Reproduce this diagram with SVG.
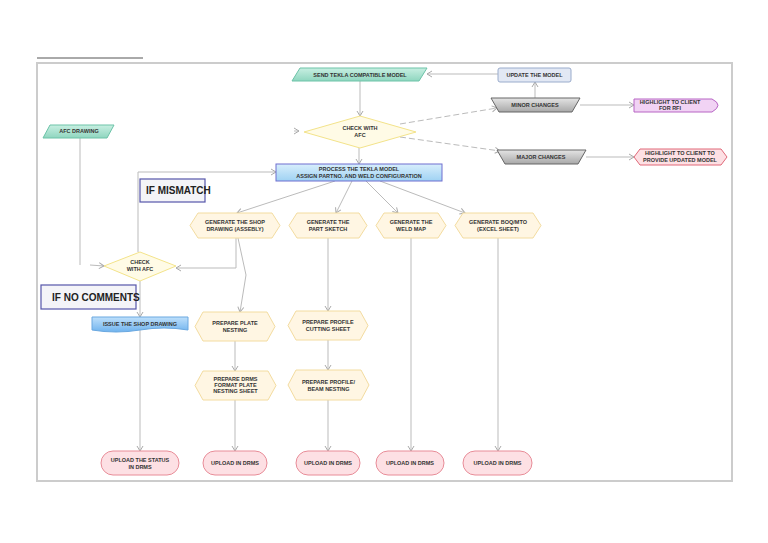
<svg xmlns="http://www.w3.org/2000/svg" width="768" height="543" viewBox="0 0 768 543">
<defs>
<marker id="a" markerWidth="8" markerHeight="8" refX="6" refY="4" orient="auto" markerUnits="userSpaceOnUse"><path d="M1,1 L6,4 L1,7" fill="none" stroke="#aaa" stroke-width="1"/></marker>
<linearGradient id="gs" x1="0" y1="0" x2="0" y2="1"><stop offset="0" stop-color="#c8efe2"/><stop offset="1" stop-color="#8fd6bf"/></linearGradient>
<linearGradient id="gb" x1="0" y1="0" x2="0" y2="1"><stop offset="0" stop-color="#d8eefc"/><stop offset="1" stop-color="#9fd2f3"/></linearGradient>
<linearGradient id="gi" x1="0" y1="0" x2="0" y2="1"><stop offset="0" stop-color="#bfe0fb"/><stop offset="1" stop-color="#6fb3ee"/></linearGradient>
<linearGradient id="gg" x1="0" y1="0" x2="0" y2="1"><stop offset="0" stop-color="#e4e4e4"/><stop offset="1" stop-color="#a8a8a8"/></linearGradient>
</defs>
<style>
text{font-family:"Liberation Sans",Arial,sans-serif;font-size:5.5px;font-weight:bold;fill:#333;text-anchor:middle}
.big{font-size:10px;fill:#222;text-anchor:start}
.c line,.c polyline{stroke:#bbb;stroke-width:1;fill:none;marker-end:url(#a)}
.d{stroke-dasharray:6,3}
.hex{fill:#fff6e3;stroke:#f3dca0;stroke-width:1}
.up{fill:#fde0e4;stroke:#e88c98;stroke-width:1}
.dia{fill:#fffbe6;stroke:#f3e38a;stroke-width:1}
.lab{fill:#f4f4f8;stroke:#5555aa;stroke-width:1.2}
</style>
<rect width="768" height="543" fill="#fff"/>
<line x1="37" y1="58" x2="143" y2="58" stroke="#555" stroke-width="1"/>
<rect x="37" y="63" width="695" height="418" fill="none" stroke="#ccc" stroke-width="2"/>
<g class="c">
<line x1="360" y1="81" x2="360" y2="116"/>
<line x1="359" y1="148" x2="359" y2="164"/>
<line class="d" x1="400" y1="124" x2="497" y2="108"/>
<line class="d" x1="400" y1="137" x2="500" y2="151"/>
<line x1="535" y1="98" x2="535" y2="82"/>
<line x1="498" y1="74" x2="427" y2="74"/>
<line x1="580" y1="105" x2="634" y2="105"/>
<line x1="586" y1="157" x2="634" y2="157"/>
<line x1="294" y1="131" x2="299" y2="131"/>
<line x1="335" y1="181" x2="237" y2="213"/>
<line x1="352" y1="181" x2="336" y2="213"/>
<line x1="366" y1="181" x2="398" y2="213"/>
<line x1="380" y1="181" x2="465" y2="213"/>
<polyline points="236,238 236,268 176,268"/>
<polyline points="238,238 246,275 240,312"/>
<line x1="80" y1="138" x2="80" y2="265" style="marker-end:none"/>
<line x1="90" y1="265" x2="104" y2="266"/>
<polyline points="138,252 138,172 276,172"/>
<line x1="140" y1="281" x2="140" y2="317"/>
<line x1="140" y1="330" x2="140" y2="451"/>
<line x1="235" y1="341" x2="235" y2="371"/>
<line x1="235" y1="400" x2="235" y2="451"/>
<line x1="328" y1="238" x2="328" y2="311"/>
<line x1="328" y1="340" x2="328" y2="370"/>
<line x1="328" y1="400" x2="328" y2="451"/>
<line x1="411" y1="238" x2="411" y2="451"/>
<line x1="498" y1="238" x2="498" y2="451"/>
</g>
<g id="send"><polygon points="300,68 427,68 419,81 292,81" fill="url(#gs)" stroke="#6cc3a8"/><text x="360" y="76.5">SEND TEKLA COMPATIBLE MODEL</text></g>
<g id="update"><rect x="498" y="68" width="73" height="14" rx="2" fill="#e2e8f4" stroke="#9aaccc"/><text x="534.5" y="77">UPDATE THE MODEL</text></g>
<g id="check1"><polygon points="304,132 360,116 416,132 360,148" class="dia"/><text x="360" y="130">CHECK WITH</text><text x="360" y="137">AFC</text></g>
<g id="minor"><polygon points="491,98 580,98 572,112 499,112" fill="url(#gg)" stroke="#666"/><text x="535" y="107">MINOR CHANGES</text></g>
<g id="rfi"><path d="M634,99 L712,99 Q724,105 712,112 L634,112 Z" fill="#f1d3f4" stroke="#b765c4"/><text x="670" y="104">HIGHLIGHT TO CLIENT</text><text x="670" y="110">FOR RFI</text></g>
<g id="major"><polygon points="497,150 586,150 578,164 505,164" fill="url(#gg)" stroke="#666"/><text x="541" y="159">MAJOR CHANGES</text></g>
<g id="provide"><path d="M640,149 L721,149 L727,157 L721,165 L640,165 L634,157 Z" fill="#fde0e4" stroke="#e06878"/><text x="680" y="155">HIGHLIGHT TO CLIENT TO</text><text x="680" y="162">PROVIDE UPDATED MODEL</text></g>
<g id="process"><rect x="276" y="164" width="166" height="17" fill="url(#gb)" stroke="#6f6fd0"/><text x="359" y="171">PROCESS THE TEKLA MODEL</text><text x="359" y="178">ASSIGN PARTNO. AND WELD CONFIGURATION</text></g>
<g id="afc"><polygon points="50,125 114,125 107,138 43,138" fill="url(#gs)" stroke="#6cc3a8"/><text x="79" y="133">AFC DRAWING</text></g>
<g id="mismatch"><rect x="140" y="179" width="65" height="23" class="lab"/><text class="big" x="146" y="194">IF MISMATCH</text></g>
<g id="h1"><polygon points="198,213 272,213 280,225.5 272,238 198,238 190,225.5" class="hex"/><text x="235" y="224">GENERATE THE SHOP</text><text x="235" y="231">DRAWING (ASSEBLY)</text></g>
<g id="h2"><polygon points="297,213 359,213 367,225.5 359,238 297,238 289,225.5" class="hex"/><text x="328" y="224">GENERATE THE</text><text x="328" y="231">PART SKETCH</text></g>
<g id="h3"><polygon points="384,213 438,213 446,225.5 438,238 384,238 376,225.5" class="hex"/><text x="411" y="224">GENERATE THE</text><text x="411" y="231">WELD MAP</text></g>
<g id="h4"><polygon points="463,213 533,213 541,225.5 533,238 463,238 455,225.5" class="hex"/><text x="498" y="224">GENERATE BOQ/MTO</text><text x="498" y="231">(EXCEL SHEET)</text></g>
<g id="check2"><polygon points="104,266 140,252 176,266 140,281" class="dia"/><text x="140" y="264">CHECK</text><text x="140" y="271">WITH AFC</text></g>
<g id="nocomm"><rect x="41" y="285" width="95" height="24" class="lab"/><text class="big" x="52" y="301">IF NO COMMENTS</text></g>
<g id="issue"><path d="M92,317 L188,317 L188,330 Q164,326 140,330 Q116,334 92,330 Z" fill="url(#gi)" stroke="#6aa8e0"/><text x="140" y="325.5">ISSUE THE SHOP DRAWING</text></g>
<g id="plate"><polygon points="203,312 267,312 275,326.5 267,341 203,341 195,326.5" class="hex"/><text x="235" y="325">PREPARE PLATE</text><text x="235" y="331.5">NESTING</text></g>
<g id="cut"><polygon points="296,311 360,311 368,325.5 360,340 296,340 288,325.5" class="hex"/><text x="328" y="324">PREPARE PROFILE</text><text x="328" y="330.5">CUTTING SHEET</text></g>
<g id="drms"><polygon points="203,371 268,371 276,385.5 268,400 203,400 195,385.5" class="hex"/><text x="235.5" y="381">PREPARE DRMS</text><text x="235.5" y="387">FORMAT PLATE</text><text x="235.5" y="393">NESTING SHEET</text></g>
<g id="beam"><polygon points="296,370 361,370 369,385 361,400 296,400 288,385" class="hex"/><text x="328.5" y="384">PREPARE PROFILE/</text><text x="328.5" y="390.5">BEAM NESTING</text></g>
<g id="u1"><rect x="101" y="451" width="78" height="24" rx="12" class="up"/><text x="140" y="462">UPLOAD THE STATUS</text><text x="140" y="468.5">IN DRMS</text></g>
<g id="u2"><rect x="203" y="451" width="64" height="24" rx="12" class="up"/><text x="235" y="465">UPLOAD IN DRMS</text></g>
<g id="u3"><rect x="296" y="451" width="64" height="24" rx="12" class="up"/><text x="328" y="465">UPLOAD IN DRMS</text></g>
<g id="u4"><rect x="376" y="451" width="68" height="24" rx="12" class="up"/><text x="410" y="465">UPLOAD IN DRMS</text></g>
<g id="u5"><rect x="463" y="451" width="69" height="24" rx="12" class="up"/><text x="497.5" y="465">UPLOAD IN DRMS</text></g>
</svg>
